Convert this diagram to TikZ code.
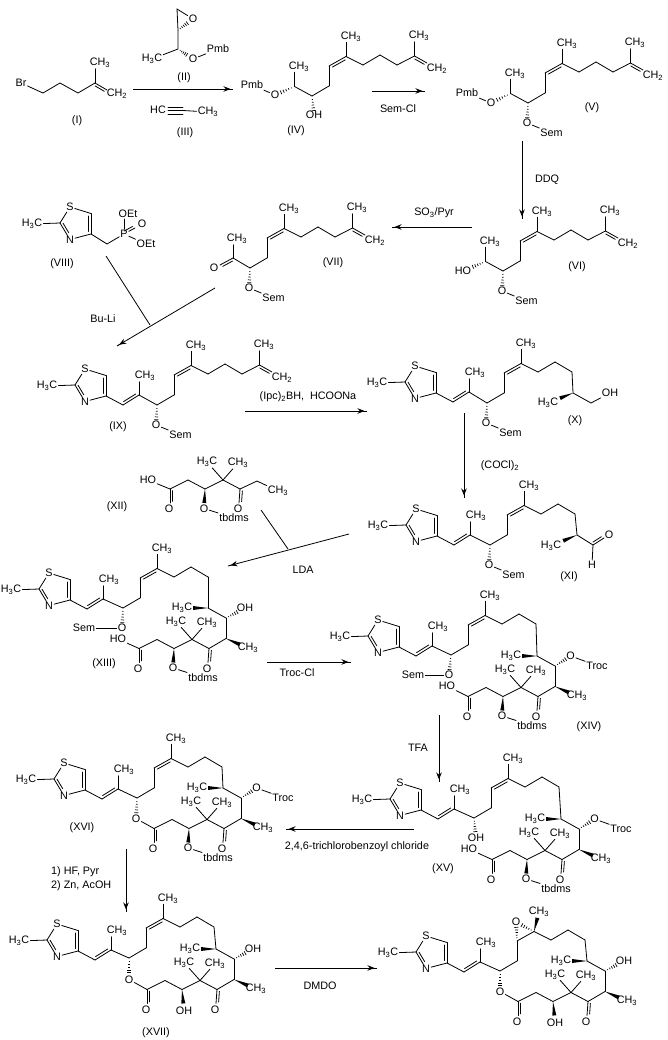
\documentclass[tikz,border=0pt]{standalone}
\usepackage{fontspec}
\setmainfont{Liberation Sans}
\usetikzlibrary{calc,arrows.meta}
\tikzset{
  bond/.style={line width=.8pt,line cap=round},
  hatch/.style={line width=.7pt},
  lab/.style={inner sep=1pt,font=\fontsize{10.8}{12}\selectfont},
  rxn/.style={line width=.8pt,-{Stealth[length=7pt,width=5.5pt]Bar[width=.8pt,length=2.5pt]}},
  branch/.style={line width=.8pt}
}
% bond helpers: double, hashed and wedged
\newcommand{\dbond}[3]{\draw[bond] (#1) -- (#2);
  \draw[bond] ($(#1)!.12!(#2)!#3!90:(#2)$) -- ($(#1)!.88!(#2)!#3!-90:(#1)$);}
\newcommand{\hbond}[3]{\foreach \f in {.25,.45,.65,.85,1.05}
  \draw[hatch] ($(#1)!\f*#3!(#2)!\f*1.9pt!90:(#1)$) -- ($(#1)!\f*#3!(#2)!\f*1.9pt!-90:(#1)$);}
\newcommand{\wbond}[3]{\fill (#1) -- ($(#1)!#3!(#2)!2pt!90:(#1)$) -- ($(#1)!#3!(#2)!2pt!-90:(#1)$) -- cycle;}
\newcommand{\chthree}{CH\textsubscript{3}}
\newcommand{\hthreec}{H\textsubscript{3}C}
% ring alone, origin on C4
\newcommand{\thiazole}[3]{
  \begin{scope}[shift={(#2,#3)}]
    \coordinate (#1t4) at (0,0);
    \coordinate (#1t5) at (0,-20.5);
    \coordinate (#1t2) at (-31,-11);
    \coordinate (#1nb) at (-23.5,1.5);
    \node[lab] (#1s) at (-21,-27) {S};
    \node[lab] (#1n) at (-21,5.5) {N};
    \node[lab] (#1me) at (-59,-10) {\hthreec};
  \end{scope}
  \draw[bond] (#1me) -- (#1t2);
  \draw[bond] (#1t2) -- (#1s);
  \draw[bond] (#1s) -- (#1t5);
  \draw[bond] (#1n) -- (#1t4);
  \dbond{#1t2}{#1nb}{2.5pt}
  \dbond{#1t4}{#1t5}{2.5pt}
}
% ring plus the methyl vinyl arm
\newcommand{\head}[3]{
  \thiazole{#1}{#2}{#3}
  \begin{scope}[shift={(#2,#3)}]
    \coordinate (#1vi) at (17,9);
    \coordinate (#1cm) at (33,-1);
    \node[lab] (#1mv) at (39,-20) {\chthree};
  \end{scope}
  \draw[bond] (#1t4) -- (#1vi);
  \dbond{#1vi}{#1cm}{2.6pt}
  \draw[bond] (#1cm) -- (#1cm |- #1mv.south);
  \draw[bond] (#1cm) -- (#1c2);
}
% chain from the carbinol carbon c2
\newcommand{\tailcoords}[1]{
  \begin{scope}[shift={(#1c2)}]
    \foreach \n/\x/\y in {c3/17/-10,c4/17/-30,c5/34/-39.5,c6/51/-31,c7/68/-41,c8/85/-31}
      \coordinate (#1\n) at (\x,\y);
    \node[lab] (#1me5) at (39,-59.5) {\chthree};
  \end{scope}
}
\newcommand{\tail}[1]{
  \tailcoords{#1}
  \foreach \a/\b in {c2/c3,c3/c4,c5/c6,c6/c7,c7/c8}
    \draw[bond] (#1\a) -- (#1\b);
  \dbond{#1c4}{#1c5}{-2.6pt}
  \draw[bond] (#1c5) -- (#1c5 |- #1me5.south);
}
\newcommand{\tailend}[1]{
  \begin{scope}[shift={(#1c2)}]
    \coordinate (#1c9) at (102.5,-40);
    \coordinate (#1ce) at (115,-33);
    \node[lab] (#1me9) at (107,-60) {\chthree};
    \node[lab] (#1ch) at (125,-27.5) {CH\textsubscript{2}};
  \end{scope}
  \draw[bond] (#1c8) -- (#1c9);
  \dbond{#1c9}{#1ce}{-2.5pt}
  \draw[bond] (#1c9) -- (#1c9 |- #1me9.south);
}
\newcommand{\osem}[1]{
  \begin{scope}[shift={(#1c2)}]
    \node[lab] (#1o) at (-1,20) {O};
    \node[lab] (#1sem) at (23.5,30) {Sem};
  \end{scope}
  \hbond{#1c2}{#1o}{14pt}
  \draw[bond] (#1o) -- (#1sem);
}
\newcommand{\carbinol}[1]{
  \begin{scope}[shift={(#1c2)}]
    \coordinate (#1c1) at (-17.5,-9.5);
    \node[lab] (#1me1) at (-13,-29.5) {\chthree};
  \end{scope}
  \draw[bond] (#1c1) -- (#1c2);
  \draw[bond] (#1c1) -- (#1c1 |- #1me1.south);
}
% keto acid stretch, origin on the ketone carbon c12
\newcommand{\ketide}[1]{
  \begin{scope}[shift={(#1c12)}]
    \foreach \n/\x/\y in {kx/-1/14,c13/-17/-9,c14/-35/0,c15/-52/-9,c16/-70/0,ax/-70/14}
      \coordinate (#1\n) at (\x,\y);
    \node[lab] (#1ko) at (-2,20) {O};
    \node[lab] (#1ao) at (-71,20) {O};
    \node[lab] (#1m1) at (-33,-27) {\hthreec};
    \node[lab] (#1m2) at (-2,-26) {\chthree};
  \end{scope}
  \foreach \a/\b in {c12/c13,c13/c14,c14/c15,c15/c16,c13/m1,c13/m2}
    \draw[bond] (#1\a) -- (#1\b);
  \dbond{#1c12}{#1kx}{2.5pt}
  \dbond{#1c16}{#1ax}{2.5pt}
}
\newcommand{\otbdms}[1]{
  \begin{scope}[shift={(#1c12)}]
    \node[lab] (#1o4) at (-36,19.5) {O};
    \node[lab] (#1tb) at (-6,29) {tbdms};
  \end{scope}
  \wbond{#1c14}{#1o4}{14pt}
  \draw[bond] (#1o4) -- (#1tb);
}
\newcommand{\ohfour}[1]{
  \node[lab] (#1o4) at ($(#1c12)+(-33,21)$) {OH};
  \wbond{#1c14}{#1o4}{14pt}
}
% right hand ring carbons, origin on c9
\newcommand{\macrolide}[1]{
  \begin{scope}[shift={(#1c9)}]
    \foreach \n/\x/\y in {c10/18/10,c11/18/30.5,c12/1/40.5}
      \coordinate (#1\n) at (\x,\y);
    \node[lab] (#1m3) at (-26,0) {\hthreec};
    \node[lab] (#1m4) at (40,40) {\chthree};
  \end{scope}
  \foreach \a/\b in {c8/c9,c9/c10,c10/c11,c11/c12}
    \draw[bond] (#1\a) -- (#1\b);
  \wbond{#1c9}{#1m3}{15pt}
  \wbond{#1c11}{#1m4}{15pt}
  \ketide{#1}
}
\newcommand{\otroc}[1]{
  \node[lab] (#1o10) at ($(#1c9)+(33.5,0)$) {O};
  \node[lab] (#1tr) at ($(#1c9)+(60,9.5)$) {Troc};
  \hbond{#1c10}{#1o10}{12pt}
  \draw[bond] (#1o10) -- (#1tr);
}
\newcommand{\ohten}[1]{
  \node[lab] (#1o10) at ($(#1c9)+(37,0)$) {OH};
  \hbond{#1c10}{#1o10}{12pt}
}
\newcommand{\closering}[1]{
  \node[lab] (#1ro) at ($(#1c16)+(-18,-10)$) {O};
  \hbond{#1c2}{#1ro}{14pt}
  \draw[bond] (#1ro) -- (#1c16);
}
\begin{document}
\begin{tikzpicture}[x=1pt,y=-1pt]
\useasboundingbox (0,0) rectangle (667,1040);

% reaction arrows
\foreach \n/\xa/\ya/\xb/\yb in {a1/133/89/233/89,a2/372/91/425/91,a3/522/141/522/219,a4/472/227/392/227,
    a5/215/288/117/346,a6/245/411/367/411,a7/464/413/464/498,a8/349/534/228/566,a9/267/662/351/662,
    a10/439/715/439/782,a11/414/829/286/829,a12/126/849/126/912,a13/275/968/377/968}{
  \coordinate (\n s) at (\xa,\ya);
  \coordinate (\n e) at (\xb,\yb);
  \draw[rxn] (\n s) -- (\n e);
}
\coordinate (b5s) at (106,256);
\coordinate (b5e) at (150,325);
\draw[branch] (b5s) -- (b5e);
\coordinate (b8s) at (261,510);
\coordinate (b8e) at (288,549);
\draw[branch] (b8s) -- (b8e);

% reagents
\node[lab] (semcl) at (398,109) {Sem-Cl};
\node[lab] (ddq) at (547,180) {DDQ};
\node[lab] (sothree) at (434,213) {SO\textsubscript{3}/Pyr};
\node[lab] (buli) at (103,319) {Bu-Li};
\node[lab] (ipc) at (308,397) {(Ipc)\textsubscript{2}BH,\ \ HCOONa};
\node[lab] (cocl) at (500,466) {(COCl)\textsubscript{2}};
\node[lab] (lda) at (303,570) {LDA};
\node[lab] (troccl) at (297,673) {Troc-Cl};
\node[lab] (tfa) at (418,748) {TFA};
\node[lab] (tcb) at (357,847) {2,4,6-trichlorobenzoyl chloride};
\node[lab,anchor=west] (hfpyr) at (50,872) {1) HF, Pyr};
\node[lab,anchor=west] (znac) at (50,886) {2) Zn, AcOH};
\node[lab] (dmdo) at (320,986) {DMDO};

% compound numbers
\foreach \n/\x/\y/\t in {1/77/121/I,2/184/78/II,3/185/133/III,4/296/131/IV,5/592/108/V,6/577/267/VI,
    7/333/263/VII,8/62/264/VIII,9/118/427/IX,10/575/421/X,11/569/577/XI,12/117/507/XII,13/104/664/XIII,
    14/589/727/XIV,15/443/869/XV,16/82/828/XVI,17/156/1033/XVII}
  \node[lab] (num\n) at (\x,\y) {(\t)};

% (I)
\node[lab] (ibr) at (21,83) {Br};
\coordinate (ic1) at (43,93);
\coordinate (ic2) at (60,83);
\coordinate (ic3) at (78,93);
\coordinate (ic4) at (95,83);
\coordinate (ice) at (107,90);
\node[lab] (ime) at (100,63) {\chthree};
\node[lab] (ich) at (117,94) {CH\textsubscript{2}};
\draw[bond] (ibr) -- (ic1) -- (ic2) -- (ic3) -- (ic4);
\draw[bond] (ic4) -- (ic4 |- ime.south);
\dbond{ic4}{ice}{-2.5pt}

% (II)
\coordinate (iia) at (177,9);
\coordinate (iib) at (178,30);
\coordinate (iic) at (178,49);
\node[lab] (iio) at (193,19) {O};
\node[lab] (iime) at (152,59) {\hthreec};
\node[lab] (iio2) at (193,59) {O};
\node[lab] (iipmb) at (218,49) {Pmb};
\draw[bond] (iib) -- (iia) -- (iio);
\hbond{iib}{iio}{11pt}
\draw[bond] (iib) -- (iic) -- (iime);
\hbond{iic}{iio2}{10pt}
\draw[bond] (iio2) -- (iipmb);

% (III)
\node[lab] (iiihc) at (158,110) {HC};
\node[lab] (iiime) at (208,112) {\chthree};
\coordinate (iiia) at (168,107);
\coordinate (iiib) at (183,107);
\coordinate (iiic) at (168,110.5);
\coordinate (iiid) at (183,110.5);
\coordinate (iiie) at (168,114);
\coordinate (iiif) at (183,114);
\draw[bond] (iiia) -- (iiib);
\draw[bond] (iiic) -- (iiid);
\draw[bond] (iiie) -- (iiif);
\draw[bond] (iiid) -- (iiime);

% (IV)
\coordinate (ivc2) at (312,96);
\carbinol{iv}
\node[lab] (ivo) at (275,95) {O};
\node[lab] (ivpmb) at (252,85) {Pmb};
\node[lab] (ivoh) at (314,115) {OH};
\hbond{ivc1}{ivo}{14pt}
\draw[bond] (ivo) -- (ivpmb);
\hbond{ivc2}{ivoh}{14pt}
\tail{iv}
\tailend{iv}

% (V)
\coordinate (vc2) at (528,103);
\carbinol{v}
\node[lab] (vo1) at (491,103) {O};
\node[lab] (vpmb) at (467,93) {Pmb};
\hbond{vc1}{vo1}{14pt}
\draw[bond] (vo1) -- (vpmb);
\osem{v}
\tail{v}
\tailend{v}

% (VI)
\coordinate (vic2) at (503,271);
\carbinol{vi}
\node[lab] (viho) at (463,271) {HO};
\hbond{vic1}{viho}{13pt}
\osem{vi}
\tail{vi}
\tailend{vi}

% (VII)
\coordinate (viic2) at (250,268);
\coordinate (viic1) at (233,258);
\coordinate (viix) at (220,265);
\node[lab] (viio1) at (214,268) {O};
\node[lab] (viime) at (237,239) {\chthree};
\draw[bond] (viic1) -- (viic2);
\draw[bond] (viic1) -- (viic1 |- viime.south);
\dbond{viic1}{viix}{2.5pt}
\osem{vii}
\tail{vii}
\tailend{vii}

% (VIII)
\thiazole{viii}{91}{234}
\coordinate (viiia) at (107,244);
\coordinate (viiix) at (135,228);
\node[lab] (viiip) at (124,234) {P};
\node[lab] (viiio1) at (128,214) {OEt};
\node[lab] (viiio2) at (142,224) {O};
\node[lab] (viiio3) at (146,244) {OEt};
\draw[bond] (viiit4) -- (viiia) -- (viiip);
\draw[bond] (viiip) -- (viiip |- viiio1.south);
\draw[bond] (viiip) -- (viiio3);
\dbond{viiip}{viiix}{2.5pt}

% (IX)
\coordinate (ixc2) at (157,405);
\head{ix}{106}{396}
\osem{ix}
\tail{ix}
\tailend{ix}

% (X)
\coordinate (xc2) at (487,403);
\head{x}{436}{393}
\osem{x}
\tail{x}
\coordinate (xc9) at (573,393);
\coordinate (xc10) at (591,403);
\node[lab] (xoh) at (610,393) {OH};
\node[lab] (xme) at (548,403) {\hthreec};
\draw[bond] (xc8) -- (xc9) -- (xc10) -- (xoh);
\wbond{xc9}{xme}{14pt}

% (XI)
\coordinate (xic2) at (490,545);
\head{xi}{437}{536}
\osem{xi}
\tail{xi}
\coordinate (xic9) at (577,535);
\coordinate (xic10) at (593,545);
\coordinate (xix) at (604,538);
\node[lab] (xio1) at (609,535) {O};
\node[lab] (xih) at (592,565) {H};
\node[lab] (ximeb) at (551,546) {\hthreec};
\draw[bond] (xic8) -- (xic9) -- (xic10) -- (xih);
\dbond{xic10}{xix}{2.5pt}
\wbond{xic9}{ximeb}{15pt}

% (XII)
\coordinate (xiic12) at (240,489);
\ketide{xii}
\otbdms{xii}
\coordinate (xiia) at (257,481);
\node[lab] (xiime) at (278,491) {\chthree};
\node[lab] (xiiho) at (148,480) {HO};
\draw[bond] (xiic12) -- (xiia) -- (xiime);
\draw[bond] (xiiho) -- (xiic16);

% (XIII)
\coordinate (xiiic2) at (123,608);
\head{xiii}{70}{600}
\tail{xiii}
\coordinate (xiiic9) at (208,608);
\macrolide{xiii}
\otbdms{xiii}
\ohten{xiii}
\node[lab] (xiiisem) at (84,628) {Sem};
\node[lab] (xiiio) at (122,628) {O};
\node[lab] (xiiiho) at (118,639) {HO};
\hbond{xiiic2}{xiiio}{14pt}
\draw[bond] (xiiisem) -- (xiiio);
\draw[bond] (xiiiho) -- (xiiic16);

% (XIV)
\coordinate (xivc2) at (451,655);
\head{xiv}{399}{647}
\tail{xiv}
\coordinate (xivc9) at (537,656);
\macrolide{xiv}
\otbdms{xiv}
\otroc{xiv}
\node[lab] (xivsem) at (413,675) {Sem};
\node[lab] (xivo) at (449,675) {O};
\node[lab] (xivho) at (447,686) {HO};
\hbond{xivc2}{xivo}{14pt}
\draw[bond] (xivsem) -- (xivo);
\draw[bond] (xivho) -- (xivc16);

% (XV)
\coordinate (xvc2) at (474,818);
\head{xv}{421}{810}
\tail{xv}
\coordinate (xvc9) at (561,819);
\macrolide{xv}
\otbdms{xv}
\otroc{xv}
\node[lab] (xvoh) at (476,838) {OH};
\node[lab] (xvho) at (469,849) {HO};
\hbond{xvc2}{xvoh}{13pt}
\draw[bond] (xvho) -- (xvc16);

% (XVI)
\coordinate (xvic2) at (137,798);
\head{xvi}{85}{790}
\tail{xvi}
\coordinate (xvic9) at (223,788);
\macrolide{xvi}
\otbdms{xvi}
\otroc{xvi}
\closering{xvi}

% (XVII)
\coordinate (xviic2) at (129,958);
\head{xvii}{78}{951}
\tail{xvii}
\coordinate (xviic9) at (216,949);
\macrolide{xvii}
\ohfour{xvii}
\ohten{xvii}
\closering{xvii}

% epoxide product
\coordinate (xviiic2) at (500,971);
\head{xviii}{447}{963}
\tailcoords{xviii}
\foreach \a/\b in {c2/c3,c3/c4,c4/c5,c5/c6,c6/c7,c7/c8}
  \draw[bond] (xviii\a) -- (xviii\b);
\node[lab] (xviiiep) at (516,922) {O};
\hbond{xviiic4}{xviiiep}{13pt}
\hbond{xviiic5}{xviiiep}{13pt}
\wbond{xviiic5}{xviiime5}{14pt}
\coordinate (xviiic9) at (587,961);
\macrolide{xviii}
\ohfour{xviii}
\ohten{xviii}
\closering{xviii}
\end{tikzpicture}
\end{document}
